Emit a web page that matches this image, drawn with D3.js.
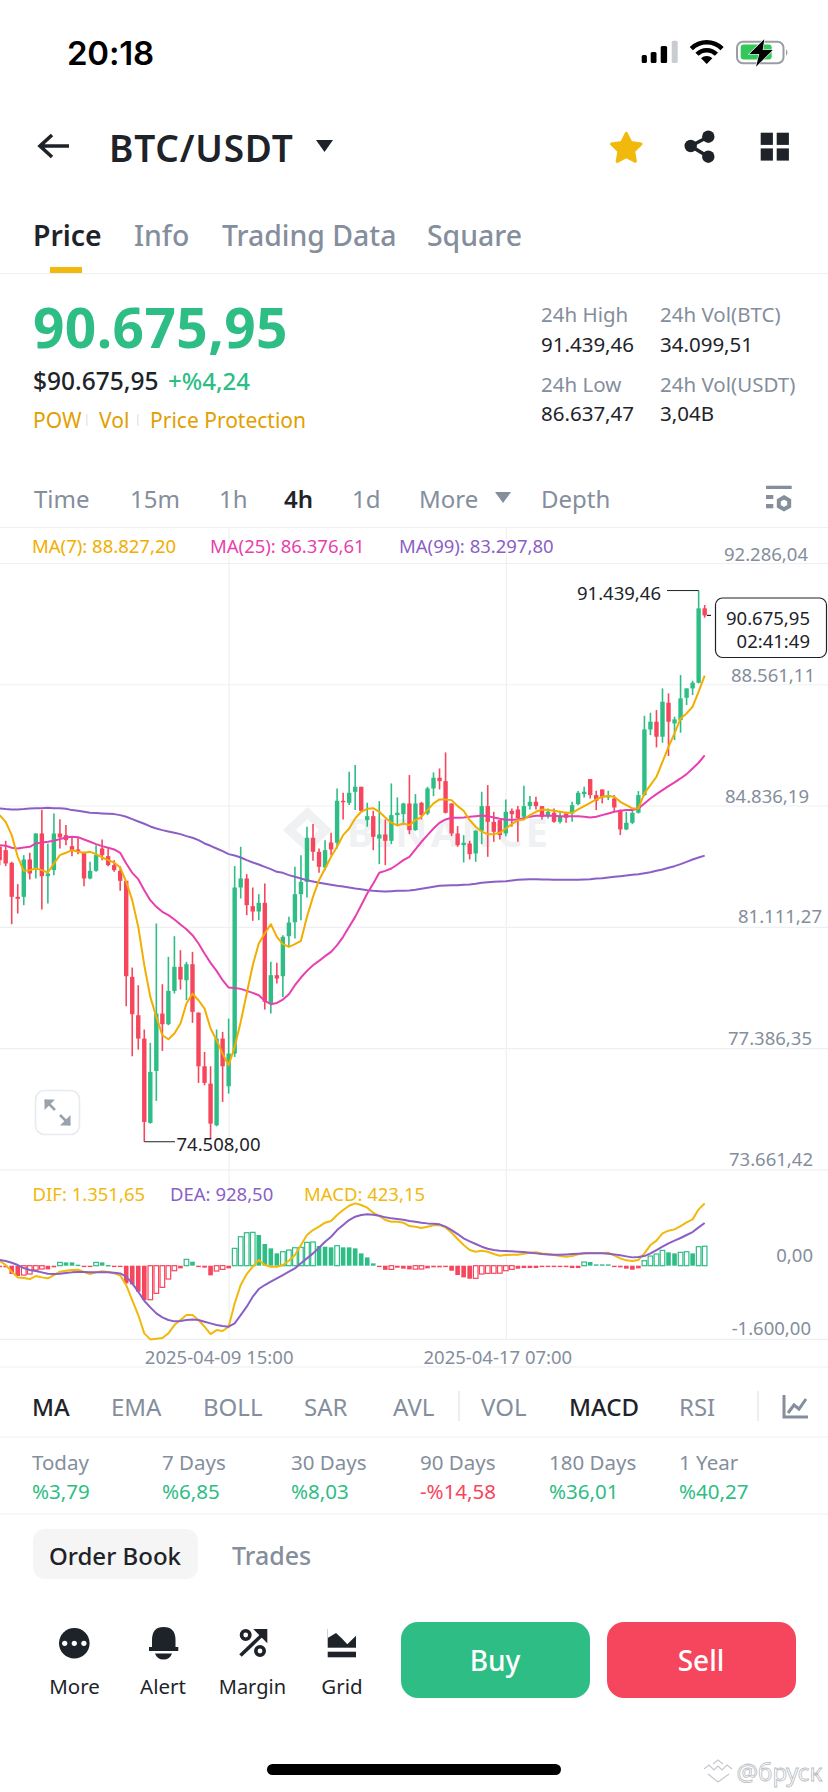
<!DOCTYPE html>
<html><head><meta charset="utf-8">
<script src="https://d3js.org/d3.v7.min.js"></script>
<style>html,body{margin:0;padding:0;background:#fff}svg{display:block}</style>
</head><body><div id="c"></div>
<script>
// ---------- DATA ----------
const dir = "rrrrgrgrgg"+"rrrrrggrrr"+"rrrrrggrgg"+"rgrrrrgrgg"+"grrgrgrggg"+"ggrrgrgrgg"+"rgrgrgggrg"+"rggrrrrgrg"+"grrrgrrggr"+"rgrgrgggrr"+"rgrrgggggr"+"grgggggr";
const high = [83619,83752,83107,82421,83312,83384,83978,84695,83670,84592,
84418,84234,83875,83855,83414,83107,83619,83793,83517,83158,
82974,82523,79859,79316,77954,77544,81212,79347,80187,80822,
80392,80034,80341,78476,77267,76827,77954,77882,78292,82974,
83568,82728,82318,82113,82441,80034,80003,80853,81416,82953,
83312,84183,84265,83517,83773,83998,85361,85228,85873,86078,
85412,84920,84674,84971,84408,85514,85084,84920,85771,85187,
84951,85412,85853,85975,86467,84900,84203,83926,83752,84080,
85258,85463,84644,84387,85023,84746,84818,85443,85125,85105,
84818,84746,84746,84644,84644,84951,85279,85412,85648,85289,
85330,85289,85156,84715,84644,84695,85279,87594,87686,87768,
88434,88281,87563,88844,88434,88670,91439.46,90996];
const bodyTop = [83568,83466,83076,82031,83179,83179,83978,83978,82748,83978,
83978,83927,83588,83486,83384,82830,83312,83517,83281,83005,
82830,82523,79573,78394,77677,76653,78445,78445,79142,79880,
79880,79962,79962,78476,76827,76294,77677,77677,77216,82318,
82595,82595,81744,81847,81847,79624,79624,80802,81242,82113,
82492,83845,83845,83414,83465,83701,84982,84982,85228,85412,
85412,84510,84510,83947,83947,84541,84613,84900,84900,84900,
84920,85361,85689,85689,85586,84900,83978,83691,83670,84060,
84818,84818,84336,84387,84644,84674,84715,84818,84951,84951,
84818,84644,84613,84510,84592,84848,85228,85258,85648,85156,
85330,85156,85053,84674,84306,84613,85156,87174,87410,87410,
88024,87994,87481,88127,88434,88608,90893,90893];
const bodyBottom = [83158,83056,82031,81970,82031,82748,82902,82666,82666,82851,
83855,83773,83445,83414,82595,82595,82830,83312,83005,82851,
82523,79593,78425,77677,75116,75085,76683,78118,78118,79142,
79490,79470,78497,76827,76315,75065,75013,76827,76212,77216,
82318,81775,81580,81580,78804,78773,79521,79593,80822,81253,
82113,82492,83414,82953,82933,83486,83691,84941,84920,85258,
84674,84387,83875,83824,83752,83752,84541,84572,84080,84080,
84541,84592,85361,85586,84613,83978,83619,83619,83342,83363,
84060,84336,84029,83927,83978,84572,84439,84490,84818,84818,
84490,84510,84336,84336,84459,84592,84879,85187,85156,84982,
85084,85084,84777,84101,84101,84306,84613,85156,87174,86949,
86949,87410,87358,87461,88147,88434,88608,90675.95];
const low = [83005,82974,81191,81519,81775,82564,82595,81642,81826,82697,
83517,83619,83281,83343,82359,82574,82800,83158,82974,82800,
82216,78671,77134,77339,74508,75065,75762,77298,78087,79060,
79183,78855,78159,76315,76243,74604,74983,75731,75987,77114,
81980,81468,81294,81314,78568,78445,79368,78958,80515,80751,
81314,82011,83138,82769,82851,83312,83517,84408,84849,84695,
84644,84183,83465,83035,83004,83650,84203,84234,83957,84060,
84408,84541,85125,85330,84592,83896,83568,83086,83179,83107,
83650,83261,83722,83793,83896,84183,83722,84387,84715,84715,
84408,84439,84306,84285,84306,84336,84848,85084,85053,84695,
84900,85002,84644,83927,84080,84265,84592,85125,87000,86621,
86764,86355,86846,87072,87922,88229,88588,90606];
const ma7 = [84541,84336,83927,83261,82830,82851,82902,82851,82779,83056,
83312,83384,83466,83414,83384,83414,83343,83240,83158,83086,
82933,82492,81929,81109,79931,78958,78343,77780,77657,77831,
78138,78753,79060,78855,78599,77985,77626,77216,76858,77421,
78189,79060,79931,80597,80904,81191,80802,
80576,80494,80576,80679,81416,82031,82543,82902,83261,83568,
83927,84131,84439,84644,84736,84756,84644,84469,84306,84224,
84285,84234,84387,84490,84695,84900,85023,85023,85002,84818,
84674,84387,84183,84029,83957,83957,83998,84131,84265,84387,
84408,84541,84644,84715,84695,
84674,84644,84613,84613,84715,84818,84920,85023,85105,85125,
85105,84951,84848,84746,84746,85207,85463,85719,86180,86641,
87051,87512,87666,87871,88332,88827.20];
const ma25 = [83619,83599,83537,83517,83547,83568,83670,83701,83722,83752,
83804,83855,83875,83865,83793,83722,83650,83588,83537,83486,
83384,83056,82769,82574,82236,81929,81724,81570,81468,81335,
81181,81037,80853,80597,80290,80003,79757,79470,79245,79234,
79204,79142,79081,79009,78835,78732,78773,
78876,79040,79316,79552,79757,79931,80064,80208,80341,80546,
80802,81109,81416,81775,82134,82441,82769,82830,82902,83025,
83158,83261,83486,83722,83927,84131,84306,84408,84459,84459,
84469,84490,84510,84531,84510,84469,84429,84398,84398,84408,
84449,84490,84520,84520,84520,
84521,84510,84510,84510,84510,84490,84469,84490,84541,84592,
84644,84674,84695,84695,84746,84900,85053,85187,85310,85433,
85545,85668,85801,85976,86150,86376.61];
const ma99 = [84746,84726,84715,84715,84726,84746,84756,84756,84767,84756,
84756,84736,84695,84674,84644,84613,84603,84593,84582,84572,
84541,84490,84418,84347,84275,84193,84131,84080,84039,83998,
83957,83896,83845,83773,83670,83599,83517,83435,83343,83302,
83240,83158,83086,83025,82953,82882,82800,
82769,82697,82646,82595,82543,82502,82461,82431,82400,82369,
82349,82318,82287,82267,82236,82216,82205,82195,82205,82216,
82216,82226,82246,82277,82308,82338,82369,82379,82390,82390,
82400,82410,82431,82461,82482,82492,82502,82513,82533,82554,
82564,82574,82574,82564,82564,
82554,82554,82554,82554,82554,82564,82574,82594,82605,82625,
82646,82666,82687,82707,82728,82759,82789,82830,82871,82922,
82973,83035,83107,83179,83240,83297.80];
const macdBars = [-22,-36,-181,-225,-203,-181,-94,-72,-80,-36,
72,72,72,22,-22,-22,72,72,14,-29,
-29,-384,-406,-565,-746,-740,-601,-471,-290,-109,
-58,138,87,-22,-43,-210,-116,-80,-58,377,
630,717,725,667,471,377,268,304,341,391,
399,507,515,428,413,399,435,399,399,377,
268,181,51,-22,-90,-80,-43,-65,-80,-75,
-72,-58,-36,-36,-14,-109,-203,-254,-283,-275,
-181,-167,-165,-163,-109,-80,-65,-51,-51,-51,
-18,-18,-18,-18,-18,-51,-51,80,80,29,
29,29,-22,-36,-65,-87,-58,109,210,254,
333,290,268,290,304,268,413,423.15];
const dif = [109,14,-130,-254,-268,-290,-225,-254,-275,-203,
-130,-109,-94,-87,-138,-181,-145,-123,-138,-167,
-210,-420,-746,-1073,-1471,-1602,-1587,-1573,-1471,-1290,
-1181,-1073,-1073,-1181,-1326,-1486,-1399,-1420,-1326,-819,
-420,-181,-22,123,14,-22,-22,14,109,232,
449,667,775,848,935,971,1102,1210,1304,1355,
1319,1261,1152,1080,993,957,957,935,862,848,
819,848,877,884,833,717,580,449,341,304,
326,304,254,217,232,239,239,261,283,290,
268,254,232,210,196,210,246,268,275,275,
275,283,225,159,116,101,123,268,449,544,
703,761,790,862,942,1007,1225,1351.65];
const dea = [123,101,65,14,-51,-94,-116,-145,-174,-181,
-174,-159,-145,-138,-138,-145,-145,-145,-145,-152,
-167,-239,-384,-565,-761,-906,-1036,-1123,-1181,-1210,
-1203,-1181,-1167,-1181,-1217,-1254,-1290,-1312,-1326,-1254,
-1073,-891,-674,-507,-420,-348,-275,-203,-130,-58,
51,159,268,391,522,630,775,884,993,1065,
1102,1116,1109,1087,1051,1029,1015,1000,971,957,
935,920,913,899,848,775,688,594,529,471,
413,370,341,326,319,312,304,297,283,268,
254,246,239,239,246,254,261,268,268,268,
268,261,246,225,203,181,188,210,268,341,
413,486,544,602,667,732,833,928.50];
const priceTicks = [92286.04,88561.11,84836.19,81111.27,77386.35,73661.42];
const macdTicks = [0,-1600];
const dateTickIdx = [38,84];
const dateLabels = ["2025-04-09 15:00","2025-04-17 07:00"];
const maLegend = ["MA(7): 88.827,20","MA(25): 86.376,61","MA(99): 83.297,80"];
const stats = [["Today","%3,79"],["7 Days","%6,85"],["30 Days","%8,03"],["90 Days","-%14,58"],["180 Days","%36,01"],["1 Year","%40,27"]];

// ---------- COLOURS / LAYOUT ----------
const W=828,H=1792,GREEN="#2ebd85",RED="#f6465d",DARK="#1e2329",GRAY="#848e9c",GRID="#eff0f2";
const C7="#f2ae00",C25="#e83fae",C99="#8a5fc6",Y="#f0b90b",ORANGE="#e1a000";
const FONT="'Noto Sans',sans-serif";
const svg=d3.select("#c").append("svg").attr("width",W).attr("height",H).attr("viewBox",`0 0 ${W} ${H}`).style("font-family",FONT);
function t(x,y,s,o={}){const e=svg.append("text").attr("x",x).attr("y",y).attr("dominant-baseline","central")
  .attr("font-size",o.size||21).attr("font-weight",o.weight||400).attr("fill",o.fill||DARK).attr("text-anchor",o.anchor||"start").text(s);
  if(o.family)e.attr("font-family",o.family); if(o.ls!=null)e.attr("letter-spacing",o.ls); return e;}
function hline(y,c=GRID){svg.append("line").attr("x1",0).attr("x2",W).attr("y1",y).attr("y2",y).attr("stroke",c).attr("stroke-width",1.2);}

const n=dir.length;
const x=d3.scaleLinear().domain([0,n-1]).range([-0.33,704.67]);
const yP=d3.scaleLinear().domain([73661.42,92286.04]).range([1169.3,563]);
const yM=d3.scaleLinear().domain([-1600,0]).range([1339.3,1265.7]);
const loc=d3.formatLocale({decimal:",",thousands:".",grouping:[3],currency:["",""],minus:"-"});
const fmt=loc.format(",.2f");

// ---------- STATUS BAR ----------
t(67,53,"20:18",{size:33,weight:600,fill:"#000",family:"Inter",ls:-.2});
[[641.7,55,5.2,8],[650.7,52,5.8,11],[660.7,46,6.4,17]].forEach(b=>svg.append("rect").attr("x",b[0]).attr("y",b[1]).attr("width",b[2]).attr("height",b[3]).attr("rx",1.5).attr("fill","#000"));
svg.append("rect").attr("x",671.7).attr("y",40.7).attr("width",6).attr("height",22.3).attr("rx",1.5).attr("fill","#c9ccd0");
[[19.5,24],[11.5,16],[0,8]].forEach(a=>svg.append("path").attr("d",d3.arc()({innerRadius:a[0],outerRadius:a[1],startAngle:-Math.PI/4,endAngle:Math.PI/4})).attr("transform","translate(706.7,64)").attr("fill","#000"));
svg.append("rect").attr("x",737).attr("y",41.7).attr("width",46.5).attr("height",21.5).attr("rx",6).attr("fill","none").attr("stroke","#9a9da1").attr("stroke-width",2);
svg.append("rect").attr("x",740.7).attr("y",44.5).attr("width",31).attr("height",15).attr("rx",3).attr("fill","#34c759");
svg.append("path").attr("d","M786,49 q3,3.5 0,7 Z").attr("fill","#9a9da1");
svg.append("path").attr("d","M764.3,39.3 L749.3,54 H759.3 L756,66.7 L772.7,50 H762.7 Z").attr("fill","#000").attr("stroke","#fff").attr("stroke-width",1.2).attr("paint-order","stroke");

// ---------- HEADER ----------
svg.append("path").attr("d","M69,146 H41 M52,135 L40,146 L52,157").attr("fill","none").attr("stroke",DARK).attr("stroke-width",3.6);
t(109,147,"BTC/USDT",{size:37,weight:600,ls:.8});
svg.append("path").attr("d","M316,140 H333 L324.5,152 Z").attr("fill",DARK);
const starPts=d3.range(10).map(k=>{const r=k%2?7.8:15.5,a=k*Math.PI/5;return [r*Math.sin(a),-r*Math.cos(a)];});
svg.append("path").attr("d",d3.line()(starPts)+"Z").attr("transform","translate(626.3,148.8)").attr("fill",Y).attr("stroke",Y).attr("stroke-width",3).attr("stroke-linejoin","round");
svg.append("path").attr("d","M708.3,136.7 L690.7,146 L708.3,156.7").attr("fill","none").attr("stroke",DARK).attr("stroke-width",3.5);
[[708.3,136.7],[690.7,146],[708.3,156.7]].forEach(c=>svg.append("circle").attr("cx",c[0]).attr("cy",c[1]).attr("r",6.2).attr("fill",DARK));
[[760.7,132.7],[776.7,132.7],[760.7,148.4],[776.7,148.4]].forEach(p=>svg.append("rect").attr("x",p[0]).attr("y",p[1]).attr("width",12.2).attr("height",12.2).attr("fill",DARK));
[["Price",33,600,DARK],["Info",134,500,GRAY],["Trading Data",222,500,GRAY],["Square",427,500,GRAY]].forEach(d=>t(d[1],235,d[0],{size:28.4,weight:d[2],fill:d[3]}));
svg.append("rect").attr("x",50).attr("y",267).attr("width",32).attr("height",6).attr("fill",Y);
hline(273.5);

// ---------- PRICE BLOCK ----------
t(33,326,"90.675,95",{size:55,weight:700,fill:GREEN,ls:.4});
t(33,380,"$90.675,95",{size:24.5,weight:500});
t(168,380,"+%4,24",{size:24,weight:500,fill:GREEN});
t(33,420,"POW",{size:21,fill:ORANGE}); t(99,420,"Vol",{size:21,fill:ORANGE}); t(150,420,"Price Protection",{size:21,fill:ORANGE});
[[86,420],[137,420]].forEach(p=>svg.append("rect").attr("x",p[0]).attr("y",p[1]-6).attr("width",1.5).attr("height",12).attr("fill","#e6e8ea"));
[[541,314,"24h High",GRAY],[541,344,"91.439,46",DARK],[660,314,"24h Vol(BTC)",GRAY],[660,344,"34.099,51",DARK],
 [541,384,"24h Low",GRAY],[541,413,"86.637,47",DARK],[660,384,"24h Vol(USDT)",GRAY],[660,413,"3,04B",DARK]].forEach(d=>t(d[0],d[1],d[2],{size:20.5,fill:d[3]}));

// ---------- INTERVAL TABS ----------
[["Time",34,400,GRAY],["15m",130,400,GRAY],["1h",219,400,GRAY],["4h",284,600,DARK],["1d",352,400,GRAY],["More",419,400,GRAY],["Depth",541,400,GRAY]].forEach(d=>t(d[1],498,d[0],{size:24,weight:d[2],fill:d[3]}));
svg.append("path").attr("d","M495,492 H511 L503,503 Z").attr("fill",GRAY);
svg.append("rect").attr("x",766).attr("y",485.7).attr("width",25.7).attr("height",3.3).attr("fill",GRAY);
svg.append("rect").attr("x",766).attr("y",495).attr("width",7.3).attr("height",4).attr("fill",GRAY);
svg.append("rect").attr("x",766).attr("y",504).attr("width",7.3).attr("height",4.3).attr("fill",GRAY);
const hexPts=d3.range(6).map(k=>[6*Math.sin(k*Math.PI/3),-6*Math.cos(k*Math.PI/3)]);
svg.append("path").attr("d",d3.line()(hexPts)+"Z").attr("transform","translate(784,503.3)").attr("fill","none").attr("stroke",GRAY).attr("stroke-width",4);
hline(527.5);

// ---------- WATERMARK ----------
svg.append("path").attr("d","M307.5,807 L332,830 L307.5,853 L283,830 Z M307.5,819 L296,830 L307.5,841 L319,830 Z").attr("fill","#f0f1f3").attr("fill-rule","evenodd");
t(347,831,"BINANCE",{size:40,weight:700,fill:"#f0f1f3",ls:3});

// ---------- AXES & GRID ----------
const priceAxisG=svg.append("g").attr("transform",`translate(${W},0)`).call(d3.axisLeft(yP).tickValues(priceTicks).tickSize(W).tickFormat(fmt));
priceAxisG.select(".domain").remove();
priceAxisG.selectAll(".tick line").attr("stroke",GRID).attr("stroke-width",1.2);
const priceLabelRight=[808,815,809,822,812,813];
const priceLabelUp=[10,10,10.5,12,11.5,11.5];
priceAxisG.selectAll(".tick text").attr("x",(d,i)=>priceLabelRight[i]-W).attr("dy",0).attr("y",(d,i)=>-priceLabelUp[i]).attr("dominant-baseline","central")
  .attr("text-anchor","end").attr("font-size",18.5).attr("fill",GRAY).attr("font-family",FONT);
const dateAxisG=svg.append("g").attr("transform","translate(0,1339.3)").call(d3.axisBottom(x).tickValues(dateTickIdx).tickSize(-811).tickFormat((d,i)=>dateLabels[i]));
dateAxisG.select(".domain").remove();
dateAxisG.selectAll(".tick line").attr("stroke",GRID).attr("stroke-width",1.2);
dateAxisG.selectAll(".tick text").attr("dy",0).attr("y",17).attr("dx",(d,i)=>i?-8.5:-10).attr("dominant-baseline","central").attr("font-size",18.5).attr("fill",GRAY).attr("font-family",FONT);
hline(1339.3); hline(1367);

// ---------- CANDLES ----------
const idx=d3.range(n);
const candles=svg.append("g");
const col=i=>dir[i]==="g"?GREEN:RED;
candles.selectAll("line").data(idx).join("line").attr("x1",x).attr("x2",x).attr("y1",i=>yP(high[i])).attr("y2",i=>yP(low[i])).attr("stroke",col).attr("stroke-width",1.6);
candles.selectAll("rect").data(idx).join("rect").attr("x",i=>x(i)-2.2).attr("width",4.4).attr("y",i=>yP(bodyTop[i])).attr("height",i=>Math.max(1.5,yP(bodyBottom[i])-yP(bodyTop[i]))).attr("fill",col);

// ---------- MA LINES ----------
const linePrice=d3.line().x((d,i)=>x(i)).y(d=>yP(d));
[[ma99,C99],[ma25,C25],[ma7,C7]].forEach(s=>svg.append("path").attr("d",linePrice(s[0])).attr("fill","none").attr("stroke",s[1]).attr("stroke-width",2).attr("stroke-linejoin","round"));
[32,210,399].forEach((px,i)=>t(px,545,maLegend[i],{size:18.5,fill:[C7,C25,C99][i]}));

// ---------- HIGH / LOW / LAST ----------
svg.append("path").attr("d",`M667,${yP(91439.46)} H${x(116)}`).attr("stroke",DARK).attr("stroke-width",1).attr("fill","none");
t(577,592,fmt(91439.46),{size:18.5});
svg.append("path").attr("d",`M${x(24)},${yP(74508)} H175`).attr("stroke",DARK).attr("stroke-width",1).attr("fill","none");
t(176.5,1143,fmt(74508),{size:18.5});
svg.append("line").attr("x1",707).attr("x2",711).attr("y1",yP(90675.95)).attr("y2",yP(90675.95)).attr("stroke",DARK).attr("stroke-width",1.2);
svg.append("rect").attr("x",715.5).attr("y",598).attr("width",111).attr("height",59.5).attr("rx",7).attr("fill","#fff").attr("stroke",DARK).attr("stroke-width",1.2);
t(810,617,fmt(90675.95),{size:18.5,anchor:"end"});
t(810,640,"02:41:49",{size:18.5,anchor:"end"});

// expand button
svg.append("rect").attr("x",35.5).attr("y",1090.5).attr("width",44).attr("height",44).attr("rx",9).attr("fill","#fff").attr("stroke","#e8eaed").attr("stroke-width",1.6);
svg.append("path").attr("d","M45,1100 L55,1110 M60,1115 L70,1125").attr("stroke","#9aa3ad").attr("stroke-width",2.6);
svg.append("path").attr("d","M44.5,1099.5 H55 L44.5,1110 Z M70.5,1125.5 H60 L70.5,1115 Z").attr("fill","#9aa3ad");

// ---------- MACD PANE ----------
[[32.5,"DIF: 1.351,65",Y],[170,"DEA: 928,50",C99],[304,"MACD: 423,15",Y]].forEach(d=>t(d[0],1193,d[1],{size:18.5,fill:d[2]}));
const mAxisG=svg.append("g").attr("transform",`translate(${W},0)`).call(d3.axisLeft(yM).tickValues(macdTicks).tickSize(0).tickFormat(fmt));
mAxisG.select(".domain").remove();
const macdLabelRight=[813,811], macdLabelUp=[11.5,12];
mAxisG.selectAll(".tick text").attr("x",(d,i)=>macdLabelRight[i]-W).attr("dy",0).attr("y",(d,i)=>-macdLabelUp[i]).attr("dominant-baseline","central")
  .attr("text-anchor","end").attr("font-size",18.5).attr("fill",GRAY).attr("font-family",FONT);
const barW=4.6;
const hollow=i=>i>0&&macdBars[i]>macdBars[i-1]&&Math.abs(yM(macdBars[i])-yM(0))>3;
svg.append("g").selectAll("rect").data(idx).join("rect")
  .attr("x",i=>x(i)-barW/2).attr("width",barW)
  .attr("y",i=>macdBars[i]>=0?yM(macdBars[i]):yM(0))
  .attr("height",i=>Math.max(1.4,Math.abs(yM(macdBars[i])-yM(0))))
  .attr("fill",i=>hollow(i)?"#fff":(macdBars[i]>=0?GREEN:RED))
  .attr("stroke",i=>macdBars[i]>=0?GREEN:RED).attr("stroke-width",i=>hollow(i)?1.2:0);
const lineM=d3.line().x((d,i)=>x(i)).y(d=>yM(d));
[[dif,Y],[dea,C99]].forEach(s=>svg.append("path").attr("d",lineM(s[0])).attr("fill","none").attr("stroke",s[1]).attr("stroke-width",2).attr("stroke-linejoin","round"));

// ---------- INDICATOR TABS ----------
[["MA",32,500,DARK],["EMA",111,400,GRAY],["BOLL",203,400,GRAY],["SAR",304,400,GRAY],["AVL",393,400,GRAY],["VOL",481,400,GRAY],["MACD",569,500,DARK],["RSI",679,400,GRAY]].forEach(d=>t(d[1],1406,d[0],{size:24,weight:d[2],fill:d[3]}));
[459,758].forEach(v=>svg.append("line").attr("x1",v).attr("x2",v).attr("y1",1391).attr("y2",1421).attr("stroke","#e6e8ea").attr("stroke-width",1.5));
svg.append("path").attr("d","M784,1395 V1417 H808 M788,1413 L794,1405 L799,1409 L806,1399").attr("fill","none").attr("stroke",GRAY).attr("stroke-width",3);
hline(1437);

// ---------- PERIOD STATS ----------
const statX=[32,162,291,420,549,679];
stats.forEach((s,i)=>{t(statX[i],1462,s[0],{size:20.5,fill:GRAY});t(statX[i],1491,s[1],{size:20.5,fill:s[1][0]==="-"?RED:GREEN});});
hline(1514);

// ---------- ORDER BOOK ----------
svg.append("rect").attr("x",33).attr("y",1529).attr("width",165).attr("height",50).attr("rx",12).attr("fill","#f5f5f5");
t(49,1555,"Order Book",{size:24,weight:500});
t(232,1555,"Trades",{size:25,weight:500,fill:GRAY});

// ---------- BOTTOM BAR ----------
svg.append("circle").attr("cx",74.3).attr("cy",1643.3).attr("r",15.3).attr("fill",DARK);
[64.7,74.3,83.9].forEach(c=>svg.append("circle").attr("cx",c).attr("cy",1643.3).attr("r",2.6).attr("fill","#fff"));
svg.append("path").attr("d","M149,1651 V1647 H152 V1640 Q152,1627 163.5,1627 Q175.5,1627 175.5,1640 V1647 H178.3 V1651 Z M155,1653.5 H172 Q170,1659.5 163.5,1659.5 Q157,1659.5 155,1653.5 Z").attr("fill",DARK);
svg.append("path").attr("d","M240.5,1655.5 L262,1635").attr("fill","none").attr("stroke",DARK).attr("stroke-width",3.6);
svg.append("path").attr("d","M253.3,1629 H267.3 V1643.3 Z").attr("fill",DARK);
[[245.7,1635],[260,1651]].forEach(c=>svg.append("circle").attr("cx",c[0]).attr("cy",c[1]).attr("r",4.2).attr("fill","none").attr("stroke",DARK).attr("stroke-width",3.6));
svg.append("rect").attr("x",327.7).attr("y",1629).attr("width",28.3).attr("height",18.7).attr("fill",DARK);
svg.append("path").attr("d","M327.7,1638 L336,1633 L341.7,1638.3 L347.3,1644.3 L356,1635.7 L356,1629 L327.7,1629 Z").attr("fill","#fff");
svg.append("rect").attr("x",327.7).attr("y",1651.7).attr("width",28.3).attr("height",5.6).attr("fill",DARK);
[["More",74.5,20.5],["Alert",163,20.5],["Margin",221*1.142,20],["Grid",342,20.5]].forEach(d=>t(d[1],1686,d[0],{size:d[2],anchor:"middle"}));
svg.append("rect").attr("x",401).attr("y",1622).attr("width",189).attr("height",76).attr("rx",17).attr("fill",GREEN);
svg.append("rect").attr("x",607).attr("y",1622).attr("width",189).attr("height",76).attr("rx",17).attr("fill",RED);
t(495,1660,"Buy",{size:28,weight:500,fill:"#fff",anchor:"middle"});
t(701,1660,"Sell",{size:28,weight:500,fill:"#fff",anchor:"middle"});
svg.append("rect").attr("x",267).attr("y",1764).attr("width",294).attr("height",11).attr("rx",5.5).attr("fill","#000");
svg.append("path").attr("d","M713,1764 L718,1760 L723,1764 M704,1769 L709,1765 L714,1770 L718,1766 L722,1770 L727,1765 L732,1769 M708,1774 L718,1782 L729,1774").attr("fill","none").attr("stroke","#c4c8cd").attr("stroke-width",1.2);
t(736.5,1771,"@бруск",{size:24,fill:"#fff"}).attr("stroke","#b9bdc2").attr("stroke-width",.8);
</script></body></html>
